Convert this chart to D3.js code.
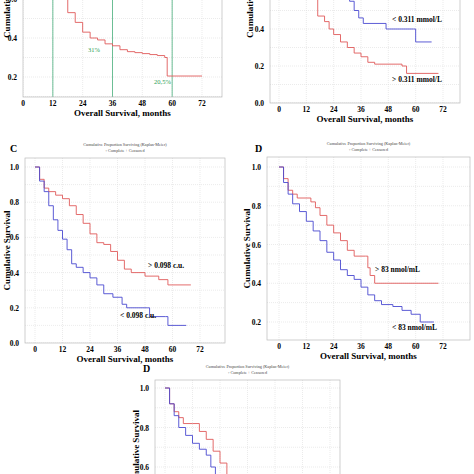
<!DOCTYPE html>
<html><head><meta charset="utf-8">
<script src="https://cdn.jsdelivr.net/npm/d3@7"></script>
<style>
body{margin:0;background:#fff}
text{font-family:"Liberation Serif",serif}
</style></head><body>
<div id="chart"></div>
<script>
// Kaplan-Meier step data, [month, survival]
var aRed = [[0,1],[6,0.85],[12,0.7],[15,0.6],[18,0.53],[21,0.48],[24,0.43],[27,0.4],[30,0.39],[33,0.37],[36,0.36],[39,0.34],[42,0.33],[45,0.325],[48,0.32],[51,0.315],[54,0.31],[57,0.3],[58,0.205],[72,0.205]];
var bRed = [[0,1],[6,0.8],[12,0.65],[15,0.56],[17,0.47],[20,0.44],[22,0.4],[24,0.37],[27,0.33],[30,0.3],[33,0.27],[36,0.25],[39,0.22],[42,0.21],[54,0.2],[56,0.16],[70,0.16]];
var bBlue = [[0,1],[12,0.8],[24,0.65],[31,0.55],[33,0.5],[35,0.46],[37,0.43],[47,0.4],[59,0.4],[60,0.33],[67,0.33]];
var cRed = [[0,1],[2,0.93],[4,0.88],[6,0.86],[9,0.84],[12,0.82],[15,0.78],[18,0.73],[21,0.68],[24,0.62],[27,0.57],[30,0.56],[33,0.52],[36,0.47],[39,0.42],[42,0.4],[48,0.38],[54,0.36],[58,0.33],[68,0.33]];
var cBlue = [[0,1],[2,0.92],[4,0.86],[6,0.78],[8,0.7],[10,0.64],[12,0.59],[14,0.53],[16,0.45],[18,0.43],[21,0.4],[24,0.37],[27,0.33],[30,0.28],[34,0.26],[38,0.22],[40,0.2],[49,0.2],[50,0.15],[57,0.15],[58,0.1],[66,0.1]];
var dRed = [[0,1],[2,0.94],[4,0.88],[6,0.86],[8,0.84],[14,0.82],[16,0.79],[18,0.75],[21,0.7],[24,0.66],[27,0.62],[30,0.57],[33,0.54],[38,0.54],[39,0.48],[40,0.44],[42,0.4],[70,0.4]];
var dBlue = [[0,1],[2,0.92],[4,0.86],[6,0.81],[9,0.77],[12,0.72],[15,0.67],[18,0.62],[21,0.56],[24,0.52],[27,0.47],[30,0.44],[33,0.42],[36,0.38],[39,0.34],[42,0.31],[45,0.29],[50,0.28],[54,0.26],[58,0.24],[62,0.2],[68,0.2]];
var eRed = [[0,1],[2,0.92],[4,0.88],[6,0.85],[8,0.82],[12,0.82],[15,0.78],[18,0.74],[21,0.68],[24,0.62],[27,0.56],[30,0.5]];
var eBlue = [[0,1],[2,0.92],[4,0.86],[6,0.8],[9,0.76],[12,0.72],[15,0.69],[18,0.66],[20,0.6],[22,0.54],[24,0.48]];
var xTicks = [0,12,24,36,48,60,72];
var yTicks = [0,0.2,0.4,0.6,0.8,1.0];

var svg = d3.select("#chart").append("svg").attr("width",474).attr("height",474);
var red = "#e05a5a", blue = "#4a4ad0";

function panel(o){
  var x = d3.scaleLinear().domain([0,72]).range([o.x0, o.x72]);
  var y = d3.scaleLinear().domain([o.v1,o.v2]).range([o.y1,o.y2]);
  var g = svg.append("g");
  var cid = "c"+Math.round(o.left)+"_"+Math.round(o.top);
  svg.append("clipPath").attr("id",cid).append("rect")
    .attr("x",o.left).attr("y",o.top).attr("width",o.right-o.left).attr("height",o.bottom-o.top);
  var inner = g.append("g").attr("clip-path","url(#"+cid+")");
  inner.selectAll(".gx").data(xTicks).enter().append("line")
    .attr("x1",d=>x(d)).attr("x2",d=>x(d)).attr("y1",o.top).attr("y2",o.bottom)
    .attr("stroke","#ddd").attr("stroke-width",0.6).attr("stroke-dasharray","1,1");
  inner.selectAll(".gy").data(d3.range(0,1.05,0.1)).enter().append("line")
    .attr("x1",o.left).attr("x2",o.right).attr("y1",d=>y(d)).attr("y2",d=>y(d))
    .attr("stroke","#ddd").attr("stroke-width",0.6).attr("stroke-dasharray","1,1");
  g.append("rect").attr("x",o.left).attr("y",o.top).attr("width",o.right-o.left).attr("height",o.bottom-o.top)
    .attr("fill","none").attr("stroke","#bbb").attr("stroke-width",0.7);
  (o.vlines||[]).forEach(function(m){
    inner.append("line").attr("x1",x(m)).attr("x2",x(m)).attr("y1",o.top).attr("y2",o.bottom)
      .attr("stroke","#5cb88a").attr("stroke-width",0.9);
  });
  var line = d3.line().x(d=>x(d[0])).y(d=>y(d[1])).curve(d3.curveStepAfter);
  o.series.forEach(function(s){
    inner.append("path").datum(s.data).attr("d",line).attr("fill","none")
      .attr("stroke",s.color).attr("stroke-width",0.9);
  });
  g.selectAll(".yt").data(yTicks.filter(d=>y(d)>=o.top-4 && y(d)<=o.bottom+4 && y(d)<474)).enter().append("text")
    .attr("x",o.left-6).attr("y",d=>y(d)+3).attr("text-anchor","end")
    .attr("font-size",7.5).attr("font-weight","bold").text(d=>d.toFixed(1));
  if(o.xlabels){
    g.selectAll(".xt").data(xTicks).enter().append("text")
      .attr("x",d=>x(d)).attr("y",o.bottom+9).attr("text-anchor","middle")
      .attr("font-size",7.5).attr("font-weight","bold").text(d=>d);
    g.append("text").attr("x",(o.left+o.right)/2).attr("y",o.bottom+19).attr("text-anchor","middle")
      .attr("font-size",9).attr("font-weight","bold").text("Overall Survival, months");
  }
  var cy = (o.top+Math.min(o.bottom,474))/2;
  g.append("text").attr("transform","translate("+(o.left-(o.ylabDx||16))+","+(o.ylabY||cy)+") rotate(-90)")
    .attr("text-anchor","middle").attr("font-size",9).attr("font-weight","bold").text("Cumulative Survival");
  if(o.letter){
    g.append("text").attr("x",o.letter[1]).attr("y",o.letter[2]).attr("font-size",10)
      .attr("font-weight","bold").text(o.letter[0]);
    var mx = (o.left+o.right)/2;
    g.append("text").attr("x",mx).attr("y",o.top-12).attr("text-anchor","middle")
      .attr("font-family","Liberation Sans").attr("font-size",4.2).attr("fill","#444")
      .text("Cumulative Proportion Surviving (Kaplan-Meier)");
    g.append("text").attr("x",mx).attr("y",o.top-6).attr("text-anchor","middle")
      .attr("font-family","Liberation Sans").attr("font-size",4.2).attr("fill","#444")
      .text("◦ Complete   + Censored");
  }
  (o.notes||[]).forEach(function(n){
    g.append("text").attr("x",n[1]).attr("y",n[2]).attr("font-size",n[4]||7.5)
      .attr("font-weight",n[3]?"normal":"bold").attr("fill",n[3]||"#000").text(n[0]);
  });
}

panel({left:23,right:222,top:-90,bottom:97,x0:23,x72:202,v1:0.4,v2:0.2,y1:38,y2:77,xlabels:true,ylabY:-2,ylabDx:13,
  vlines:[12,36,60],series:[{data:aRed,color:red}],
  notes:[["31%",88,52,"#2a9d55",6.5],["20,5%",154,84,"#2a9d55",6.5]]});
panel({left:270,right:460,top:-90,bottom:103,x0:279,x72:443,v1:0.4,v2:0.0,y1:29,y2:103,xlabels:true,ylabY:-2,ylabDx:17,
  series:[{data:bRed,color:red},{data:bBlue,color:blue}],
  notes:[["< 0.311 mmol/L",392,22],["> 0.311 mmol/L",392,82]]});
panel({left:25,right:225,top:158,bottom:343,x0:35,x72:200,v1:1.0,v2:0.0,y1:167,y2:343,xlabels:true,ylabDx:15,
  letter:["C",10,152],series:[{data:cRed,color:red},{data:cBlue,color:blue}],
  notes:[["> 0.098 c.u.",148,268],["< 0.098 c.u.",120,318]]});
panel({left:267,right:470,top:157,bottom:340,x0:279,x72:443,v1:1.0,v2:0.2,y1:167,y2:322,xlabels:true,ylabDx:17,
  letter:["D",255,152],series:[{data:dRed,color:red},{data:dBlue,color:blue}],
  notes:[["> 83 nmol/mL",375,272],["< 83 nmol/mL",392,330]]});
panel({left:155,right:340,top:380,bottom:560,x0:165,x72:330,v1:1.0,v2:0.6,y1:388,y2:467,xlabels:false,ylabY:450,
  letter:["D",143,372],series:[{data:eRed,color:red},{data:eBlue,color:blue}]});
</script>
</body></html>
